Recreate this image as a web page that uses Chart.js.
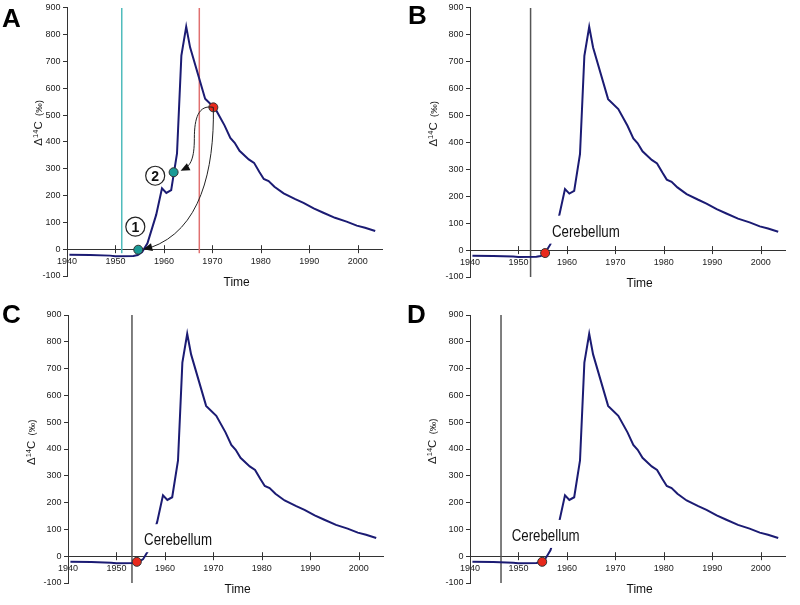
<!DOCTYPE html>
<html>
<head>
<meta charset="utf-8">
<script src="https://cdn.jsdelivr.net/npm/chart.js@4.4.1/dist/chart.umd.min.js"></script>
<style>
  body { margin: 0; background: #fff; width: 800px; height: 605px; position: relative; overflow: hidden; }
  canvas { position: absolute; }
</style>
</head>
<body>
<canvas id="panelA" width="400" height="300" style="left:0;top:0"></canvas>
<canvas id="panelB" width="400" height="300" style="left:400px;top:0"></canvas>
<canvas id="panelC" width="400" height="305" style="left:0;top:300px"></canvas>
<canvas id="panelD" width="400" height="305" style="left:400px;top:300px"></canvas>
<script>
// atmospheric Δ14C record
const years = [1940.5, 1944.8, 1948.9, 1950.0, 1953.7, 1954.6, 1955.5, 1956.6, 1958.4, 1959.6,
  1960.5, 1961.5, 1962.7, 1963.6, 1964.6, 1965.4, 1968.5, 1970.6, 1972.5, 1973.7,
  1974.6, 1975.6, 1977.5, 1978.6, 1979.7, 1980.6, 1981.6, 1982.8, 1984.7, 1987.1,
  1988.8, 1990.9, 1992.9, 1995.3, 1997.7, 1999.8, 2001.5, 2003.6];
const d14c = [-21, -22, -24, -26, -25, -22, -11, 22, 128, 227,
  210, 220, 357, 722, 830, 753, 561, 524, 462, 415,
  397, 367, 335, 322, 288, 262, 254, 233, 208, 187,
  173, 152, 136, 117, 103, 88, 80, 68];

const xTicks = [1940, 1950, 1960, 1970, 1980, 1990, 2000];
const yTicks = [-100, 0, 100, 200, 300, 400, 500, 600, 700, 800, 900];

// panel A: teal and red markers, vertical lines
const tealYears = [1954.7, 1962.0];
const tealValues = [-2, 287];
const redYearA = [1970.2];
const redValueA = [529];
const tealLineYear = 1951.3;
const redLineYear = 1967.3;

// panels B, C, D
const cutYears = [1952.5, 1953.2, 1946.4];
const cereYears = [1955.5, 1954.2, 1954.9];
const cereValues = [-11, -21, -21];
const labelYears = [1956.9, 1955.7, 1948.6];
const labelValues = [50, 41, 57];

const curve = years.map((x, i) => ({ x, y: d14c[i] }));
const FONT = '"Liberation Sans", Arial, sans-serif';

function vline(year, color, bottom) {
  return {
    data: [{ x: year, y: bottom }, { x: year, y: 900 }],
    showLine: true, borderColor: color, borderWidth: 1.5, pointRadius: 0
  };
}

function dots(xs, ys, color) {
  return {
    data: xs.map((x, i) => ({ x, y: ys[i] })),
    showLine: false, pointRadius: 4.5, backgroundColor: color,
    borderColor: '#333', borderWidth: 1
  };
}

function arrowHead(ctx, tx, ty, fx, fy) {
  const a = Math.atan2(ty - fy, tx - fx);
  ctx.beginPath();
  ctx.moveTo(tx, ty);
  ctx.lineTo(tx - 9 * Math.cos(a) + 4 * Math.sin(a), ty - 9 * Math.sin(a) - 4 * Math.cos(a));
  ctx.lineTo(tx - 9 * Math.cos(a) - 4 * Math.sin(a), ty - 9 * Math.sin(a) + 4 * Math.cos(a));
  ctx.closePath();
  ctx.fill();
}

function drawYTitle(ctx, cx, cy) {
  const parts = [
    ['\u0394', '11.5px ' + FONT, 0],
    ['14', '7.5px ' + FONT, -4.5],
    ['C', '11.5px ' + FONT, 0],
    ['  ', '9.5px ' + FONT, 0],
    ['(\u2030)', '9.5px ' + FONT, 0]
  ];
  ctx.save();
  ctx.translate(cx, cy);
  ctx.rotate(-Math.PI / 2);
  ctx.fillStyle = '#222';
  let w = 0;
  parts.forEach(p => { ctx.font = p[1]; w += ctx.measureText(p[0]).width; });
  let x = -w / 2;
  parts.forEach(p => {
    ctx.font = p[1];
    ctx.fillText(p[0], x, 4 + p[2]);
    x += ctx.measureText(p[0]).width;
  });
  ctx.restore();
}

// axis ticks, titles, panel letter and annotations
function makeDeco(cfg) {
  return {
    id: 'deco',
    afterDatasetDraw(chart, args) {
      if (cfg.label == null || args.index !== 1) return;
      const { ctx, scales: { x, y } } = chart;
      const lx = x.getPixelForValue(cfg.label[0]);
      const ly = y.getPixelForValue(cfg.label[1]);
      ctx.save();
      ctx.font = '16px ' + FONT;
      // narrow face: squeeze a regular sans horizontally
      const w = ctx.measureText('Cerebellum').width * 0.83;
      ctx.fillStyle = '#fff';
      ctx.fillRect(lx - 4, ly - 21, w + 8, 28);
      ctx.fillStyle = '#111';
      ctx.translate(lx, ly);
      ctx.scale(0.83, 1);
      ctx.textBaseline = 'alphabetic';
      ctx.fillText('Cerebellum', 0, 0);
      ctx.restore();
    },
    afterDraw(chart) {
      const { ctx, chartArea, scales: { x, y } } = chart;
      const y0 = y.getPixelForValue(0);
      ctx.save();
      ctx.strokeStyle = '#333';
      ctx.lineWidth = 1;
      xTicks.forEach(v => {
        const px = Math.round(x.getPixelForValue(v)) + 0.5;
        ctx.beginPath();
        ctx.moveTo(px, y0 - 4);
        ctx.lineTo(px, y0 + 4);
        ctx.stroke();
      });
      ctx.fillStyle = '#111';
      ctx.font = '12px ' + FONT;
      ctx.textAlign = 'center';
      ctx.textBaseline = 'middle';
      ctx.fillText('Time', x.getPixelForValue(1975), chartArea.bottom + 6.5);
      ctx.textAlign = 'left';
      ctx.textBaseline = 'alphabetic';
      ctx.font = 'bold 26px ' + FONT;
      ctx.fillStyle = '#000';
      ctx.fillText(cfg.letter, cfg.letterPos[0], cfg.letterPos[1]);
      drawYTitle(ctx, chartArea.left - cfg.titleGap, y.getPixelForValue(cfg.titleValue));

      if (cfg.arrows) {
        const R = { x: x.getPixelForValue(redYearA[0]), y: y.getPixelForValue(redValueA[0]) };
        const T1 = { x: x.getPixelForValue(tealYears[0]), y: y.getPixelForValue(tealValues[0]) };
        const T2 = { x: x.getPixelForValue(tealYears[1]), y: y.getPixelForValue(tealValues[1]) };
        ctx.strokeStyle = '#222';
        ctx.fillStyle = '#111';
        ctx.lineWidth = 1;
        // arrow to point 2
        const t2 = { x: T2.x + 7, y: T2.y - 1.5 };
        ctx.beginPath();
        ctx.moveTo(R.x, R.y);
        ctx.bezierCurveTo(R.x - 15, R.y - 3, R.x - 19, R.y + 11, R.x - 19, R.y + 31);
        ctx.bezierCurveTo(R.x - 19, R.y + 51, t2.x + 10, t2.y - 5, t2.x + 3, t2.y - 1.5);
        ctx.stroke();
        arrowHead(ctx, t2.x, t2.y, t2.x + 8, t2.y - 4);
        // arrow to point 1
        const t1 = { x: T1.x + 5, y: T1.y - 0.5 };
        ctx.beginPath();
        ctx.moveTo(R.x, R.y);
        ctx.bezierCurveTo(R.x + 1, R.y + 63, R.x - 13, R.y + 123, t1.x + 7, t1.y - 1.5);
        ctx.stroke();
        arrowHead(ctx, t1.x, t1.y, t1.x + 10, t1.y - 2.5);
        // circled numbers
        [['1', 1954.1, 84], ['2', 1958.2, 274]].forEach(c => {
          const cx = x.getPixelForValue(c[1]), cy = y.getPixelForValue(c[2]);
          ctx.beginPath();
          ctx.arc(cx, cy, 9.5, 0, Math.PI * 2);
          ctx.fillStyle = '#fff';
          ctx.fill();
          ctx.lineWidth = 1.2;
          ctx.stroke();
          ctx.fillStyle = '#111';
          ctx.font = 'bold 14px ' + FONT;
          ctx.textAlign = 'center';
          ctx.textBaseline = 'middle';
          ctx.fillText(c[0], cx, cy + 1);
        });
      }
      ctx.restore();
    }
  };
}

function makePanel(id, datasets, pad, yWidth, cfg) {
  return new Chart(document.getElementById(id), {
    type: 'scatter',
    data: { datasets },
    options: {
      responsive: false,
      animation: false,
      layout: { padding: pad },
      plugins: { legend: { display: false }, tooltip: { enabled: false } },
      elements: { line: { tension: 0 } },
      scales: {
        x: {
          type: 'linear', min: 1940, max: 2005, position: { y: 0 },
          afterBuildTicks: s => { s.ticks = xTicks.map(v => ({ value: v })); },
          grid: { display: false, drawTicks: false },
          border: { color: '#333', width: 1 },
          ticks: {
            autoSkip: false, maxRotation: 0, padding: 7, color: '#222',
            font: { family: FONT, size: 9 }, callback: v => String(v)
          }
        },
        y: {
          type: 'linear', min: -100, max: 900,
          afterBuildTicks: s => { s.ticks = yTicks.map(v => ({ value: v })); },
          afterFit: s => { s.width = yWidth; },
          grid: { drawOnChartArea: false, tickLength: 4, color: '#333' },
          border: { color: '#333', width: 1 },
          ticks: {
            autoSkip: false, padding: 2.5, color: '#222',
            font: { family: FONT, size: 9 }, callback: v => String(v)
          }
        }
      }
    },
    plugins: [makeDeco(cfg)]
  });
}

const curveSet = () => ({
  data: curve, showLine: true, borderColor: '#1b1b73', borderWidth: 2, pointRadius: 0
});

// A
makePanel('panelA', [
  dots(redYearA, redValueA, '#e8291c'),
  dots(tealYears, tealValues, '#1a9a96'),
  curveSet(),
  vline(tealLineYear, '#4fbcbc', -15),
  vline(redLineYear, '#e07070', -15)
], { top: 7, right: 18, bottom: 24, left: 0 }, 67,
  { letter: 'A', letterPos: [2, 27], titleGap: 29, titleValue: 471, arrows: true });

// B, C, D
const panels = [
  ['panelB', { top: 7, right: 15, bottom: 23, left: 0 }, 70, 'B', [8, 24], 37, 469],
  ['panelC', { top: 15, right: 17, bottom: 22, left: 0 }, 68, 'C', [2, 23], 37, 425],
  ['panelD', { top: 15, right: 15, bottom: 22, left: 0 }, 70, 'D', [7, 23], 38, 429]
];
panels.forEach((p, i) => {
  makePanel(p[0], [
    dots([cereYears[i]], [cereValues[i]], '#e8291c'),
    curveSet(),
    vline(cutYears[i], '#555', -100)
  ], p[1], p[2], {
    letter: p[3], letterPos: p[4], titleGap: p[5], titleValue: p[6],
    label: [labelYears[i], labelValues[i]]
  });
});
</script>
</body>
</html>
